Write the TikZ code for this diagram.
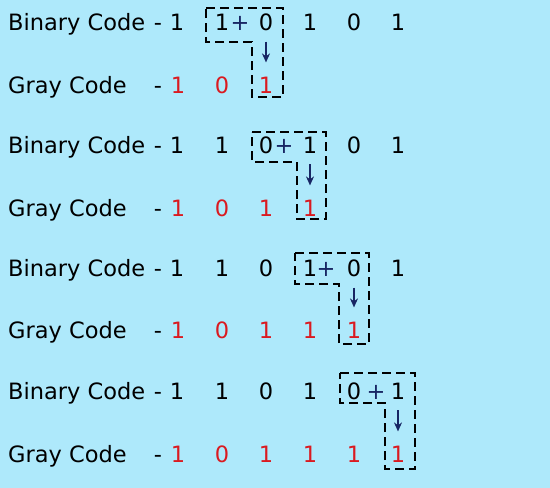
\documentclass[tikz,border=0pt]{standalone}
\usepackage{fontspec}
\setmainfont{DejaVu Sans}
\usetikzlibrary{arrows.meta}

\definecolor{skyback}{RGB}{174,233,251}
\definecolor{grayred}{RGB}{218,26,32}
\definecolor{plusnavy}{RGB}{24,38,100}

\begin{document}
\begin{tikzpicture}[x=1pt, y=-1pt, >={Stealth[length=9pt, width=8pt]},
    every node/.style={inner sep=0pt, anchor=base, font=\fontsize{22.5}{26}\selectfont},
    lbl/.style={anchor=base west},
    bin/.style={text=black},
    gry/.style={text=grayred},
    plus/.style={text=plusnavy},
    pairbox/.style={draw=black, line width=2.6pt, dash pattern=on 9pt off 5pt},
    arr/.style={->, draw=plusnavy, line width=2.2pt, shorten <=11pt, shorten >=14pt}]
    % Background
    \fill[skyback] (0,0) rectangle (550,488);
    \useasboundingbox (0,0) rectangle (550,488);

    % Define row 1
    \node[lbl] (lb1) at (8, 30) {Binary Code};
    \node (db1) at (158, 30) {-};
    \node[bin] (b11) at (177, 30) {1};
    \node[bin] (b12) at (222, 30) {1};
    \node[plus] (p1) at (240, 30) {+};
    \node[bin] (b13) at (266, 30) {0};
    \node[bin] (b14) at (310, 30) {1};
    \node[bin] (b15) at (354, 30) {0};
    \node[bin] (b16) at (398, 30) {1};
    \node[lbl] (lg1) at (8, 93) {Gray Code};
    \node (dg1) at (158, 93) {-};
    \node[gry] (g11) at (178, 93) {1};
    \node[gry] (g12) at (222, 93) {0};
    \node[gry] (g13) at (266, 93) {1};

    % Define row 2
    \node[lbl] (lb2) at (8, 153) {Binary Code};
    \node (db2) at (158, 153) {-};
    \node[bin] (b21) at (177, 153) {1};
    \node[bin] (b22) at (222, 153) {1};
    \node[bin] (b23) at (266, 153) {0};
    \node[plus] (p2) at (284, 153) {+};
    \node[bin] (b24) at (310, 153) {1};
    \node[bin] (b25) at (354, 153) {0};
    \node[bin] (b26) at (398, 153) {1};
    \node[lbl] (lg2) at (8, 216) {Gray Code};
    \node (dg2) at (158, 216) {-};
    \node[gry] (g21) at (178, 216) {1};
    \node[gry] (g22) at (222, 216) {0};
    \node[gry] (g23) at (266, 216) {1};
    \node[gry] (g24) at (310, 216) {1};

    % Define row 3
    \node[lbl] (lb3) at (8, 276) {Binary Code};
    \node (db3) at (158, 276) {-};
    \node[bin] (b31) at (177, 276) {1};
    \node[bin] (b32) at (222, 276) {1};
    \node[bin] (b33) at (266, 276) {0};
    \node[bin] (b34) at (310, 276) {1};
    \node[plus] (p3) at (326, 276) {+};
    \node[bin] (b35) at (354, 276) {0};
    \node[bin] (b36) at (398, 276) {1};
    \node[lbl] (lg3) at (8, 338) {Gray Code};
    \node (dg3) at (158, 338) {-};
    \node[gry] (g31) at (178, 338) {1};
    \node[gry] (g32) at (222, 338) {0};
    \node[gry] (g33) at (266, 338) {1};
    \node[gry] (g34) at (310, 338) {1};
    \node[gry] (g35) at (354, 338) {1};

    % Define row 4
    \node[lbl] (lb4) at (8, 399) {Binary Code};
    \node (db4) at (158, 399) {-};
    \node[bin] (b41) at (177, 399) {1};
    \node[bin] (b42) at (222, 399) {1};
    \node[bin] (b43) at (266, 399) {0};
    \node[bin] (b44) at (310, 399) {1};
    \node[bin] (b45) at (354, 399) {0};
    \node[plus] (p4) at (376, 399) {+};
    \node[bin] (b46) at (398, 399) {1};
    \node[lbl] (lg4) at (8, 462) {Gray Code};
    \node (dg4) at (158, 462) {-};
    \node[gry] (g41) at (178, 462) {1};
    \node[gry] (g42) at (222, 462) {0};
    \node[gry] (g43) at (266, 462) {1};
    \node[gry] (g44) at (310, 462) {1};
    \node[gry] (g45) at (354, 462) {1};
    \node[gry] (g46) at (398, 462) {1};

    % Draw dashed boxes
    \draw[pairbox] (206,8) -- (283,8) -- (283,97) -- (252,97) -- (252,42) -- (206,42) -- cycle; % Row 1
    \draw[pairbox] (252,132) -- (326,132) -- (326,219) -- (297,219) -- (297,162) -- (252,162) -- cycle; % Row 2
    \draw[pairbox] (295,253) -- (369,253) -- (369,344) -- (339,344) -- (339,284) -- (295,284) -- cycle; % Row 3
    \draw[pairbox] (340,373) -- (415,373) -- (415,469) -- (385,469) -- (385,403) -- (340,403) -- cycle; % Row 4

    % Draw arrows
    \draw[arr] (b13) -- (g13); % 1 + 0 -> 1
    \draw[arr] (b24) -- (g24); % 0 + 1 -> 1
    \draw[arr] (b35) -- (g35); % 1 + 0 -> 1
    \draw[arr] (b46) -- (g46); % 0 + 1 -> 1
\end{tikzpicture}
\end{document}
